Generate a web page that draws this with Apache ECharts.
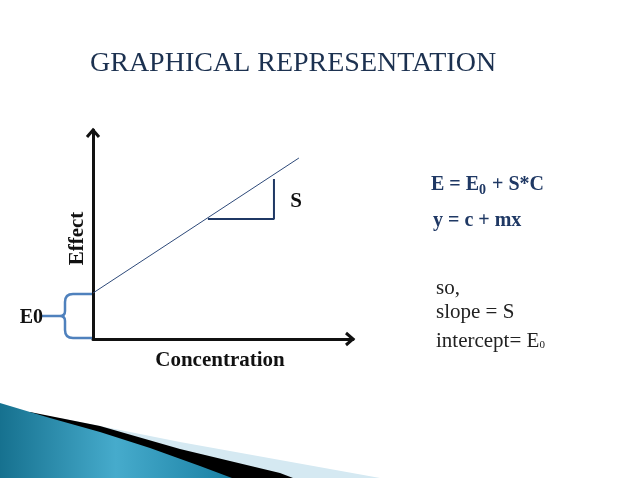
<!DOCTYPE html>
<html>
<head>
<meta charset="utf-8">
<script src="https://cdn.jsdelivr.net/npm/echarts@6/dist/echarts.min.js"></script>
<style>html,body{margin:0;padding:0;background:#fff;}#c{width:638px;height:478px;}</style>
</head>
<body>
<div id="c"></div>
<script>
// ---- data ----
const titleText = 'GRAPHICAL REPRESENTATION';
const xName = 'Concentration';
const yName = 'Effect';
const concentration = [0, 7.92];
const effect = [2.20, 8.66];
const E0 = 2.20;
const triX = [4.42, 6.96, 6.96];
const triY = [5.74, 5.74, 7.66];
const sLabelPos = [7.81, 6.56];
const axisMax = 10;

const serif = '"Liberation Serif", "Times New Roman", serif';

const chart = echarts.init(document.getElementById('c'));

chart.setOption({
  animation: false,
  backgroundColor: '#fff',
  title: {
    text: titleText,
    left: 85, top: 45,
    textStyle: { fontFamily: serif, fontSize: 28, fontWeight: 'normal', color: '#1c3150' }
  },
  grid: { left: 93, top: 130, width: 260, height: 209 },
  xAxis: {
    type: 'value', min: 0, max: axisMax,
    name: xName, nameLocation: 'middle', nameGap: 11,
    nameTextStyle: { fontFamily: serif, fontSize: 21, fontWeight: 'bold', color: '#111', padding: [0, 6, 0, 0] },
    axisLine: { show: true, lineStyle: { color: '#111', width: 3 } },
    axisTick: { show: false }, axisLabel: { show: false }, splitLine: { show: false }
  },
  yAxis: {
    type: 'value', min: 0, max: axisMax,
    name: yName, nameLocation: 'middle', nameGap: 5, nameRotate: 90,
    nameTextStyle: { fontFamily: serif, fontSize: 21, fontWeight: 'bold', color: '#111', padding: [0, 8, 0, 0] },
    axisLine: { show: true, lineStyle: { color: '#111', width: 3 } },
    axisTick: { show: false }, axisLabel: { show: false }, splitLine: { show: false }
  },
  series: [
    {
      type: 'line', data: concentration.map((c, i) => [c, effect[i]]),
      symbol: 'none', lineStyle: { color: '#2e4a7a', width: 1 }
    },
    {
      type: 'line', data: triX.map((c, i) => [c, triY[i]]),
      symbol: 'none', lineStyle: { color: '#1f3864', width: 2 }
    },
    {
      // axis arrowheads (open chevrons) at axis ends
      type: 'custom', clip: false, data: [[axisMax, 0, 0], [0, axisMax, 1]],
      renderItem: function (params, api) {
        const p = api.coord([api.value(0), api.value(1)]);
        const pts = api.value(2) === 0
          ? [[p[0] - 7, p[1] - 6], [p[0], p[1]], [p[0] - 7, p[1] + 6]]
          : [[p[0] - 6, p[1] + 7], [p[0], p[1]], [p[0] + 6, p[1] + 7]];
        return { type: 'polyline', shape: { points: pts },
          style: { stroke: '#111', lineWidth: 3, fill: 'none', lineJoin: 'miter' } };
      }
    },
    {
      type: 'custom', clip: false, data: [[0, E0]],
      renderItem: function (params, api) {
        const t = api.coord([api.value(0), api.value(1)]);
        const b = api.coord([api.value(0), 0]);
        const ax = t[0];
        const yt = t[1] + 1, yb = b[1] - 1, ym = (yt + yb) / 2;
        const vx = ax - 28, px = ax - 33;
        const d = 'M' + (ax - 1) + ',' + yt +
          ' L' + (vx + 8) + ',' + yt +
          ' Q' + vx + ',' + yt + ' ' + vx + ',' + (yt + 8) +
          ' L' + vx + ',' + (ym - 5) +
          ' Q' + vx + ',' + ym + ' ' + px + ',' + ym +
          ' Q' + vx + ',' + ym + ' ' + vx + ',' + (ym + 5) +
          ' L' + vx + ',' + (yb - 8) +
          ' Q' + vx + ',' + yb + ' ' + (vx + 8) + ',' + yb +
          ' L' + (ax - 1) + ',' + yb +
          ' M' + px + ',' + ym + ' L' + (ax - 51) + ',' + ym;
        return {
          type: 'group',
          children: [
            { type: 'path', shape: { pathData: d }, style: { stroke: '#4f81bd', fill: 'none', lineWidth: 2.5 } },
            { type: 'text', style: { x: ax - 50, y: ym + 2, text: 'E0', align: 'right', verticalAlign: 'middle',
              font: 'bold 20px ' + serif, fill: '#111' } }
          ]
        };
      }
    },
    {
      type: 'custom', clip: false, data: [sLabelPos],
      renderItem: function (params, api) {
        const p = api.coord([api.value(0), api.value(1)]);
        return { type: 'text', style: { x: p[0], y: p[1], text: 'S', align: 'center', verticalAlign: 'middle',
          font: 'bold 21px ' + serif, fill: '#111' } };
      }
    }
  ],
  graphic: [
    // bottom decoration
    { type: 'polygon', silent: true, shape: { points: [[60,418],[180,442],[280,460],[380,478],[0,478],[0,418]] },
      style: { fill: '#d5e9f2' } },
    { type: 'polygon', silent: true, shape: { points: [[30,412],[100,426],[180,449],[280,473],[293,478],[0,478],[0,412]] },
      style: { fill: '#000' } },
    { type: 'polygon', silent: true, shape: { points: [[0,403],[50,418],[100,432],[150,448],[200,466],[232,478],[0,478]] },
      style: { fill: new echarts.graphic.LinearGradient(0, 0, 1, 0, [
        { offset: 0, color: '#16718f' }, { offset: 0.5, color: '#46abcc' }, { offset: 1, color: '#1a80a3' }]) } },
    // equations
    { type: 'text', silent: true, style: {
        x: 431, y: 185, verticalAlign: 'middle',
        text: '{a|E = E}{s|0}{a| + S*C}',
        rich: {
          a: { fontFamily: serif, fontSize: 20, fontWeight: 'bold', fill: '#1f3864', color: '#1f3864' },
          s: { fontFamily: serif, fontSize: 14, fontWeight: 'bold', fill: '#1f3864', color: '#1f3864', padding: [11, 1, 0, 0] }
        } } },
    { type: 'text', silent: true, style: {
        x: 433, y: 221, verticalAlign: 'middle', text: 'y = c + mx',
        font: 'bold 20px ' + serif, fill: '#1f3864' } },
    { type: 'text', silent: true, style: {
        x: 436, y: 288, verticalAlign: 'middle', text: 'so,',
        font: '21px ' + serif, fill: '#222' } },
    { type: 'text', silent: true, style: {
        x: 436, y: 312, verticalAlign: 'middle', text: 'slope = S',
        font: '21px ' + serif, fill: '#222' } },
    { type: 'text', silent: true, style: {
        x: 436, y: 341, verticalAlign: 'middle',
        text: '{a|intercept= E}{s|0}',
        rich: {
          a: { fontFamily: serif, fontSize: 21, fill: '#222', color: '#222' },
          s: { fontFamily: serif, fontSize: 11, fill: '#222', color: '#222', padding: [9, 0, 0, 0] }
        } } }
  ]
});
</script>
</body>
</html>
